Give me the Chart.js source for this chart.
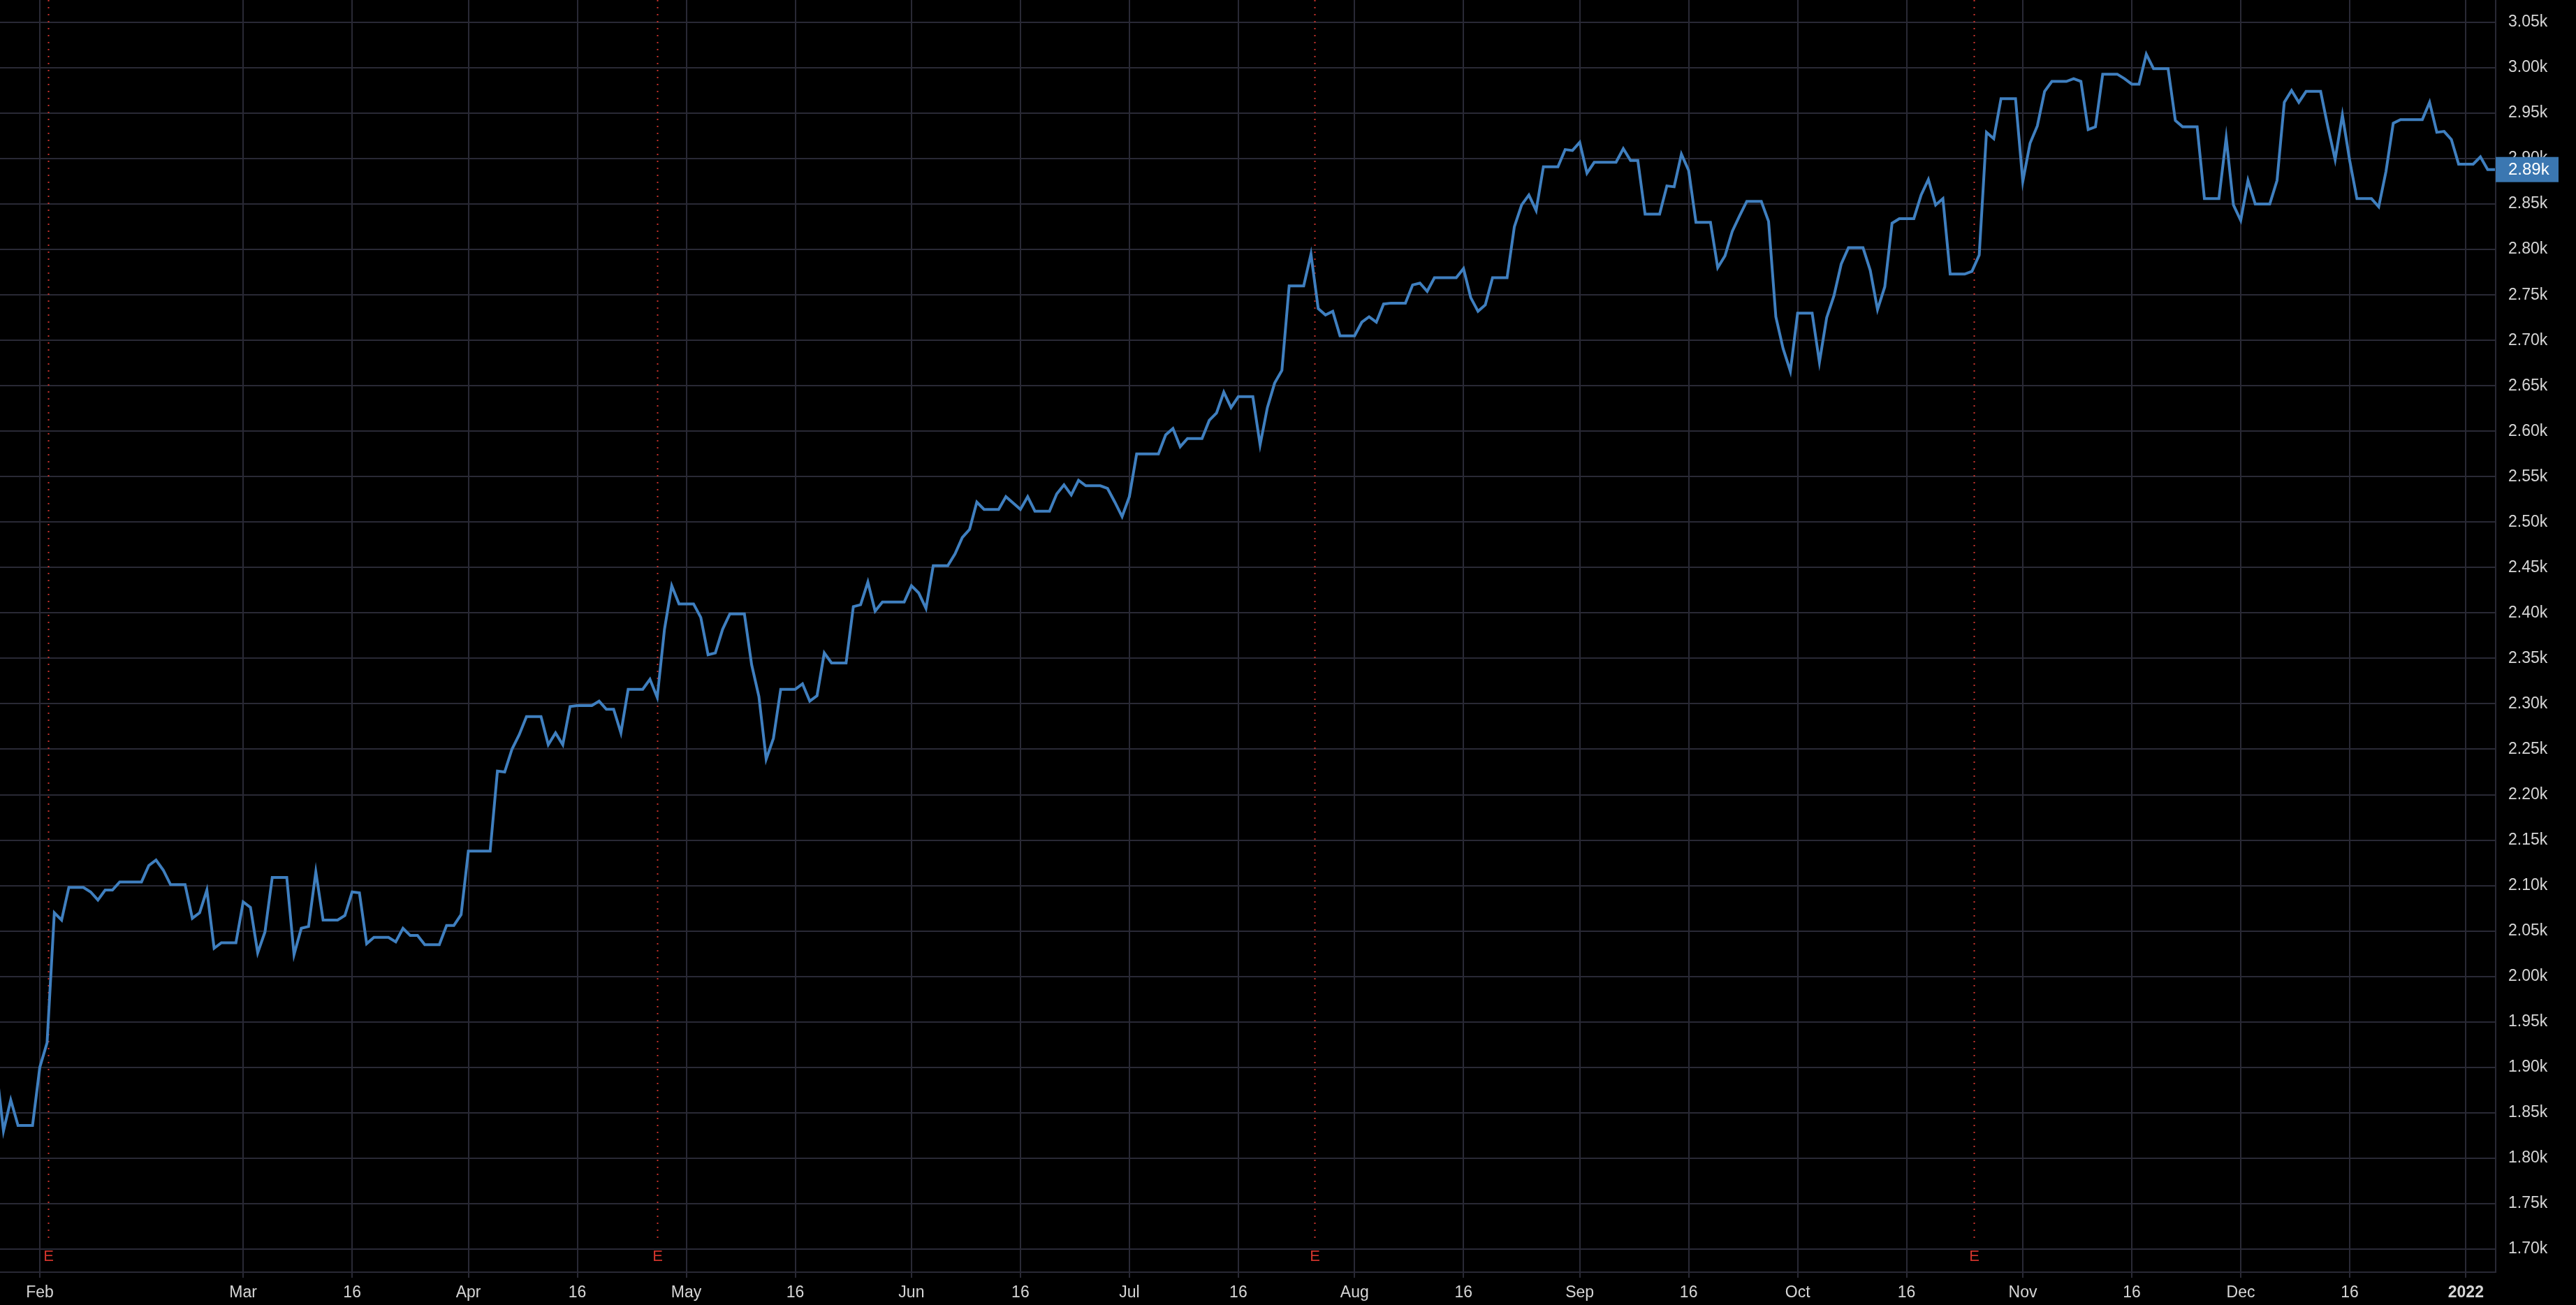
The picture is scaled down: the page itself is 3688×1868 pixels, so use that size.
<!DOCTYPE html>
<html><head><meta charset="utf-8">
<script src="https://cdn.jsdelivr.net/npm/chart.js@4.4.1/dist/chart.umd.min.js"></script>
<style>html,body{margin:0;padding:0;background:#000;}#wrap{width:3688px;height:1868px;}</style>
</head><body><div id="wrap"><canvas id="c" width="3688" height="1868"></canvas></div>
<script>
// day offsets relative to 2021-02-01
const firstDay = -6;
const prices = [
1.90,1.83,1.864,1.836,1.836,1.836,
1.90,1.927,2.07,2.062,2.098,2.098,2.098,2.093,2.084,2.095,2.095,2.104,2.104,2.104,2.104,2.122,2.128,2.117,2.101,2.101,2.101,2.064,2.07,2.095,2.031,2.037,2.037,2.037,
2.082,2.076,2.026,2.049,2.109,2.109,2.109,2.024,2.053,2.055,2.115,2.062,2.062,2.062,2.067,2.093,2.092,2.036,2.043,2.043,2.043,2.038,2.053,2.045,2.045,2.035,2.035,2.035,2.056,2.056,2.068,
2.138,2.138,2.138,2.138,2.226,2.225,2.25,2.266,2.286,2.286,2.286,2.255,2.268,2.255,2.297,2.298,2.298,2.298,2.303,2.294,2.294,2.268,2.316,2.316,2.316,2.327,2.307,2.382,2.43,2.41,
2.41,2.41,2.395,2.354,2.356,2.382,2.399,2.399,2.399,2.343,2.308,2.239,2.262,2.316,2.316,2.316,2.322,2.303,2.309,2.356,2.345,2.345,2.345,2.407,2.409,2.434,2.402,2.412,2.412,2.412,2.412,
2.43,2.422,2.405,2.452,2.452,2.452,2.465,2.483,2.492,2.522,2.514,2.514,2.514,2.528,2.521,2.514,2.528,2.512,2.512,2.512,2.531,2.541,2.53,2.546,2.54,2.54,2.54,2.537,2.522,2.506,
2.528,2.575,2.575,2.575,2.575,2.596,2.603,2.583,2.592,2.592,2.592,2.612,2.62,2.643,2.626,2.638,2.638,2.638,2.585,2.626,2.653,2.667,2.76,2.76,2.76,2.795,2.735,2.728,2.732,2.705,2.705,
2.705,2.72,2.726,2.72,2.74,2.741,2.741,2.741,2.761,2.763,2.754,2.769,2.769,2.769,2.769,2.779,2.747,2.732,2.739,2.769,2.769,2.769,2.825,2.849,2.86,2.843,2.891,2.891,2.891,2.91,2.909,
2.918,2.884,2.896,2.896,2.896,2.896,2.911,2.898,2.898,2.839,2.839,2.839,2.87,2.869,2.905,2.887,2.83,2.83,2.83,2.78,2.793,2.82,2.837,2.853,2.853,2.853,2.831,2.726,2.691,2.666,
2.73,2.73,2.73,2.676,2.725,2.749,2.784,2.802,2.802,2.802,2.777,2.734,2.759,2.829,2.834,2.834,2.834,2.86,2.877,2.849,2.856,2.773,2.773,2.773,2.776,2.794,2.929,2.922,2.966,2.966,2.966,
2.875,2.917,2.936,2.974,2.985,2.985,2.985,2.988,2.985,2.932,2.935,2.993,2.993,2.993,2.988,2.982,2.982,3.015,2.999,2.999,2.999,2.942,2.935,2.935,2.935,2.856,2.856,2.856,2.923,2.849,
2.832,2.876,2.85,2.85,2.85,2.876,2.962,2.975,2.962,2.974,2.974,2.974,2.935,2.899,2.948,2.898,2.856,2.856,2.856,2.847,2.886,2.939,2.943,2.943,2.943,2.943,2.962,2.929,2.93,2.921,2.894,
2.894,2.894,2.902,2.888,2.888
];
const days = prices.map((_, i) => firstDay + i);
const xTickDays   = [0, 28, 43, 59, 74, 89, 104, 120, 135, 150, 165, 181, 196, 212, 227, 242, 257, 273, 288, 303, 318, 334];
const xTickLabels = ['Feb','Mar','16','Apr','16','May','16','Jun','16','Jul','16','Aug','16','Sep','16','Oct','16','Nov','16','Dec','16','2022'];
const yTicks = [1.70,1.75,1.80,1.85,1.90,1.95,2.00,2.05,2.10,2.15,2.20,2.25,2.30,2.35,2.40,2.45,2.50,2.55,2.60,2.65,2.70,2.75,2.80,2.85,2.90,2.95,3.00,3.05];
const earningsDays = [1.2, 85, 175.5, 266.3];

const GRID = '#292935';
const LINE = '#3f7fbf';
const FONT = '"Helvetica Neue", Arial, "Liberation Sans", sans-serif';

const overlay = {
  id: 'overlay',
  beforeDatasetsDraw(chart) {
    const {ctx, chartArea, scales} = chart;
    ctx.save();
    earningsDays.forEach(d => {
      const x = Math.round(scales.x.getPixelForValue(d)) + 0.5;
      ctx.strokeStyle = '#c8322c';
      ctx.lineWidth = 2;
      ctx.setLineDash([2, 8]);
      ctx.beginPath(); ctx.moveTo(x, chartArea.top); ctx.lineTo(x, chartArea.bottom - 48); ctx.stroke();
      ctx.setLineDash([]);
      ctx.fillStyle = '#d0342c';
      ctx.font = '22px ' + FONT;
      ctx.textAlign = 'center'; ctx.textBaseline = 'middle';
      ctx.fillText('E', x, chartArea.bottom - 22);
    });
    ctx.restore();
  },
  afterDraw(chart) {
    const {ctx, chartArea, scales} = chart;
    const last = prices[prices.length - 1];
    const y = scales.y.getPixelForValue(last);
    ctx.save();
    ctx.fillStyle = '#3b77b1';
    ctx.fillRect(chartArea.right, y - 18, 90, 36);
    ctx.fillStyle = '#ffffff';
    ctx.font = '24px ' + FONT;
    ctx.textAlign = 'left'; ctx.textBaseline = 'middle';
    ctx.fillText(last.toFixed(2) + 'k', chartArea.right + 18, y + 1);
    ctx.restore();
  }
};

new Chart(document.getElementById('c'), {
  type: 'line',
  data: { datasets: [{
    data: days.map((d, i) => ({x: d, y: prices[i]})),
    borderColor: LINE, borderWidth: 4, pointRadius: 0, tension: 0, fill: false
  }]},
  options: {
    responsive: false, animation: false, devicePixelRatio: 1,
    layout: { padding: 0 },
    plugins: { legend: {display: false}, tooltip: {enabled: false} },
    scales: {
      x: {
        type: 'linear', min: -5.48, max: 338.1,
        afterBuildTicks: s => { s.ticks = xTickDays.map(v => ({value: v})); },
        afterFit: s => { s.height = 47; s.paddingLeft = 0; s.paddingRight = 0; },
        grid: { color: GRID, lineWidth: 2, drawTicks: true, tickLength: 8, tickColor: GRID },
        border: { color: GRID, width: 2 },
        ticks: {
          autoSkip: false, maxRotation: 0, padding: 8, color: '#d6d6d6',
          font: ctx => ({ family: FONT, size: 23, weight: (ctx.tick && ctx.tick.value === 334) ? 'bold' : 'normal' }),
          callback: v => { const i = xTickDays.indexOf(v); return i >= 0 ? xTickLabels[i] : ''; }
        }
      },
      y: {
        position: 'right', min: 1.6745, max: 3.0746,
        afterBuildTicks: s => { s.ticks = yTicks.map(v => ({value: v})); },
        afterFit: s => { s.width = 115; s.paddingTop = 0; s.paddingBottom = 0; },
        grid: { color: GRID, lineWidth: 2, drawTicks: false },
        border: { color: GRID, width: 2 },
        ticks: {
          color: '#d6d6d6', padding: 18, font: { family: FONT, size: 23 },
          callback: v => v.toFixed(2) + 'k'
        }
      }
    }
  },
  plugins: [overlay]
});
</script>
</body></html>
